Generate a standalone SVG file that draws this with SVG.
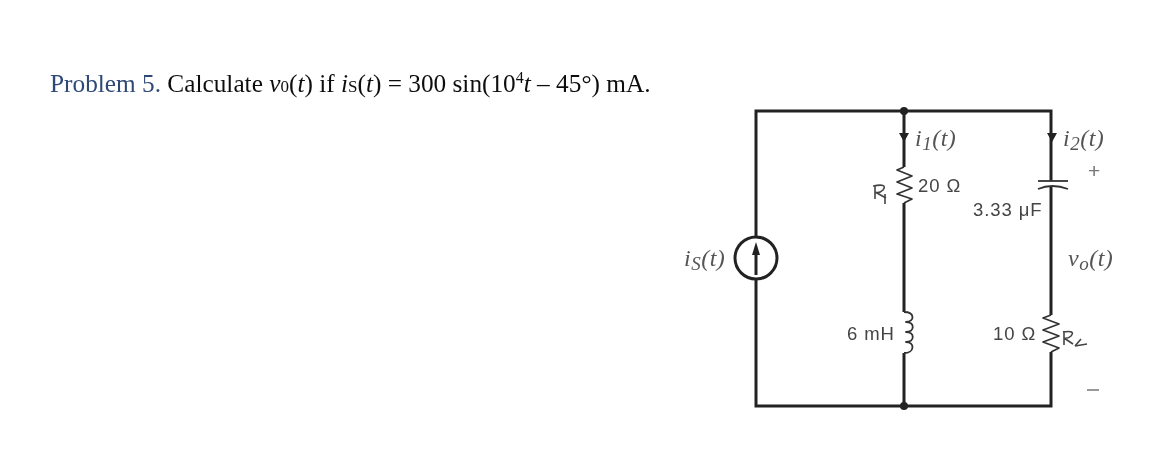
<svg xmlns="http://www.w3.org/2000/svg" width="1167" height="457" viewBox="0 0 1167 457">
<defs><filter id="soft" x="-5%" y="-5%" width="110%" height="110%"><feGaussianBlur stdDeviation="0.45"/></filter></defs>
<style>
.w{fill:none;stroke:#222;stroke-width:3}
.c{fill:none;stroke:#333;stroke-width:1.8;stroke-linejoin:round}
.hand{fill:none;stroke:#444;stroke-width:1.6}
.h{fill:#222}
.s{font-family:"Liberation Sans",Arial,sans-serif;font-size:18.5px;letter-spacing:.9px;fill:#444}
.m{font-family:"Liberation Serif","Times New Roman",serif;font-style:italic;font-size:24px;letter-spacing:.5px;fill:#555}
.sub{font-size:19px}
.t{font-family:"Liberation Serif","Times New Roman",serif;font-size:25.3px;fill:#111}
.hw{font-family:"Liberation Sans",Arial,sans-serif;font-size:21px;fill:#777}
</style>
<rect width="1167" height="457" fill="#fff"/>
<g filter="url(#soft)">
<text id="title" class="t" x="50" y="92"><tspan fill="#2f4a78">Problem 5.</tspan> Calculate <tspan font-style="italic">v</tspan><tspan font-size="17">0</tspan>(<tspan font-style="italic">t</tspan>) if <tspan font-style="italic">i</tspan><tspan font-size="17">S</tspan>(<tspan font-style="italic">t</tspan>) = 300 sin(10<tspan font-size="16" dy="-9">4</tspan><tspan font-style="italic" dy="9">t</tspan> – 45°) mA.</text>
<g id="connectors">
<path class="w" d="M756 237V111H1051V181M756 279V406H1051V352M904 111V167M904 203V312M904 353V406M1051 187V315"/>
<circle class="h" cx="904" cy="111" r="4"/>
<circle class="h" cx="904" cy="406" r="4"/>
<path class="h" d="M899 133h10l-5 9zM1047 133h10l-5 9z"/>
</g>
<g id="source">
<circle cx="756" cy="258" r="21" fill="#fff" stroke="#222" stroke-width="3"/>
<path class="w" d="M756 275V250"/>
<path class="h" d="M756 242l-4 13h8z"/>
<text class="m" x="684" y="266">i<tspan class="sub" dy="4">S</tspan><tspan dy="-4">(t)</tspan></text>
</g>
<g id="r1">
<path class="c" d="M904 167L897 170L912 176L897 182L912 188L897 194L912 199L904 203"/>
<text class="s" x="918" y="192">20 Ω</text>
<path class="hand" d="M875 185V199M873 186Q888 183 883 190Q879 194 875 192L886 198M885 194V204"/>
</g>
<g id="inductor">
<path class="c" d="M904 312C915 312 915 322 906 322C915 322 915 332 906 332C915 332 915 342 906 342C915 342 915 353 904 353"/>
<text class="s" x="847" y="340">6 mH</text>
</g>
<g id="capacitor">
<path class="c" d="M1038 181H1068"/>
<path class="c" d="M1038 189Q1052 183 1068 189"/>
<text class="s" x="973" y="216">3.33 μF</text>
</g>
<g id="rl">
<path class="c" d="M1051 315L1043 318L1059 324L1043 330L1059 336L1043 342L1059 348L1051 352"/>
<text class="s" x="993" y="340">10 Ω</text>
<path class="hand" d="M1064 331V345M1063 332Q1076 330 1071 336Q1068 339 1064 338L1073 344M1075 346L1087 344M1075 346L1081 339"/>
</g>
<g id="labels">
<text class="m" x="915" y="146">i<tspan class="sub" dy="4">1</tspan><tspan dy="-4">(t)</tspan></text>
<text class="m" x="1063" y="146">i<tspan class="sub" dy="4">2</tspan><tspan dy="-4">(t)</tspan></text>
<text class="m" x="1068" y="266">v<tspan class="sub" dy="4">o</tspan><tspan dy="-4">(t)</tspan></text>
<text class="hw" x="1088" y="178">+</text>
<path d="M1087 390H1099" stroke="#777" stroke-width="1.5"/>
</g>
</g>
</svg>
